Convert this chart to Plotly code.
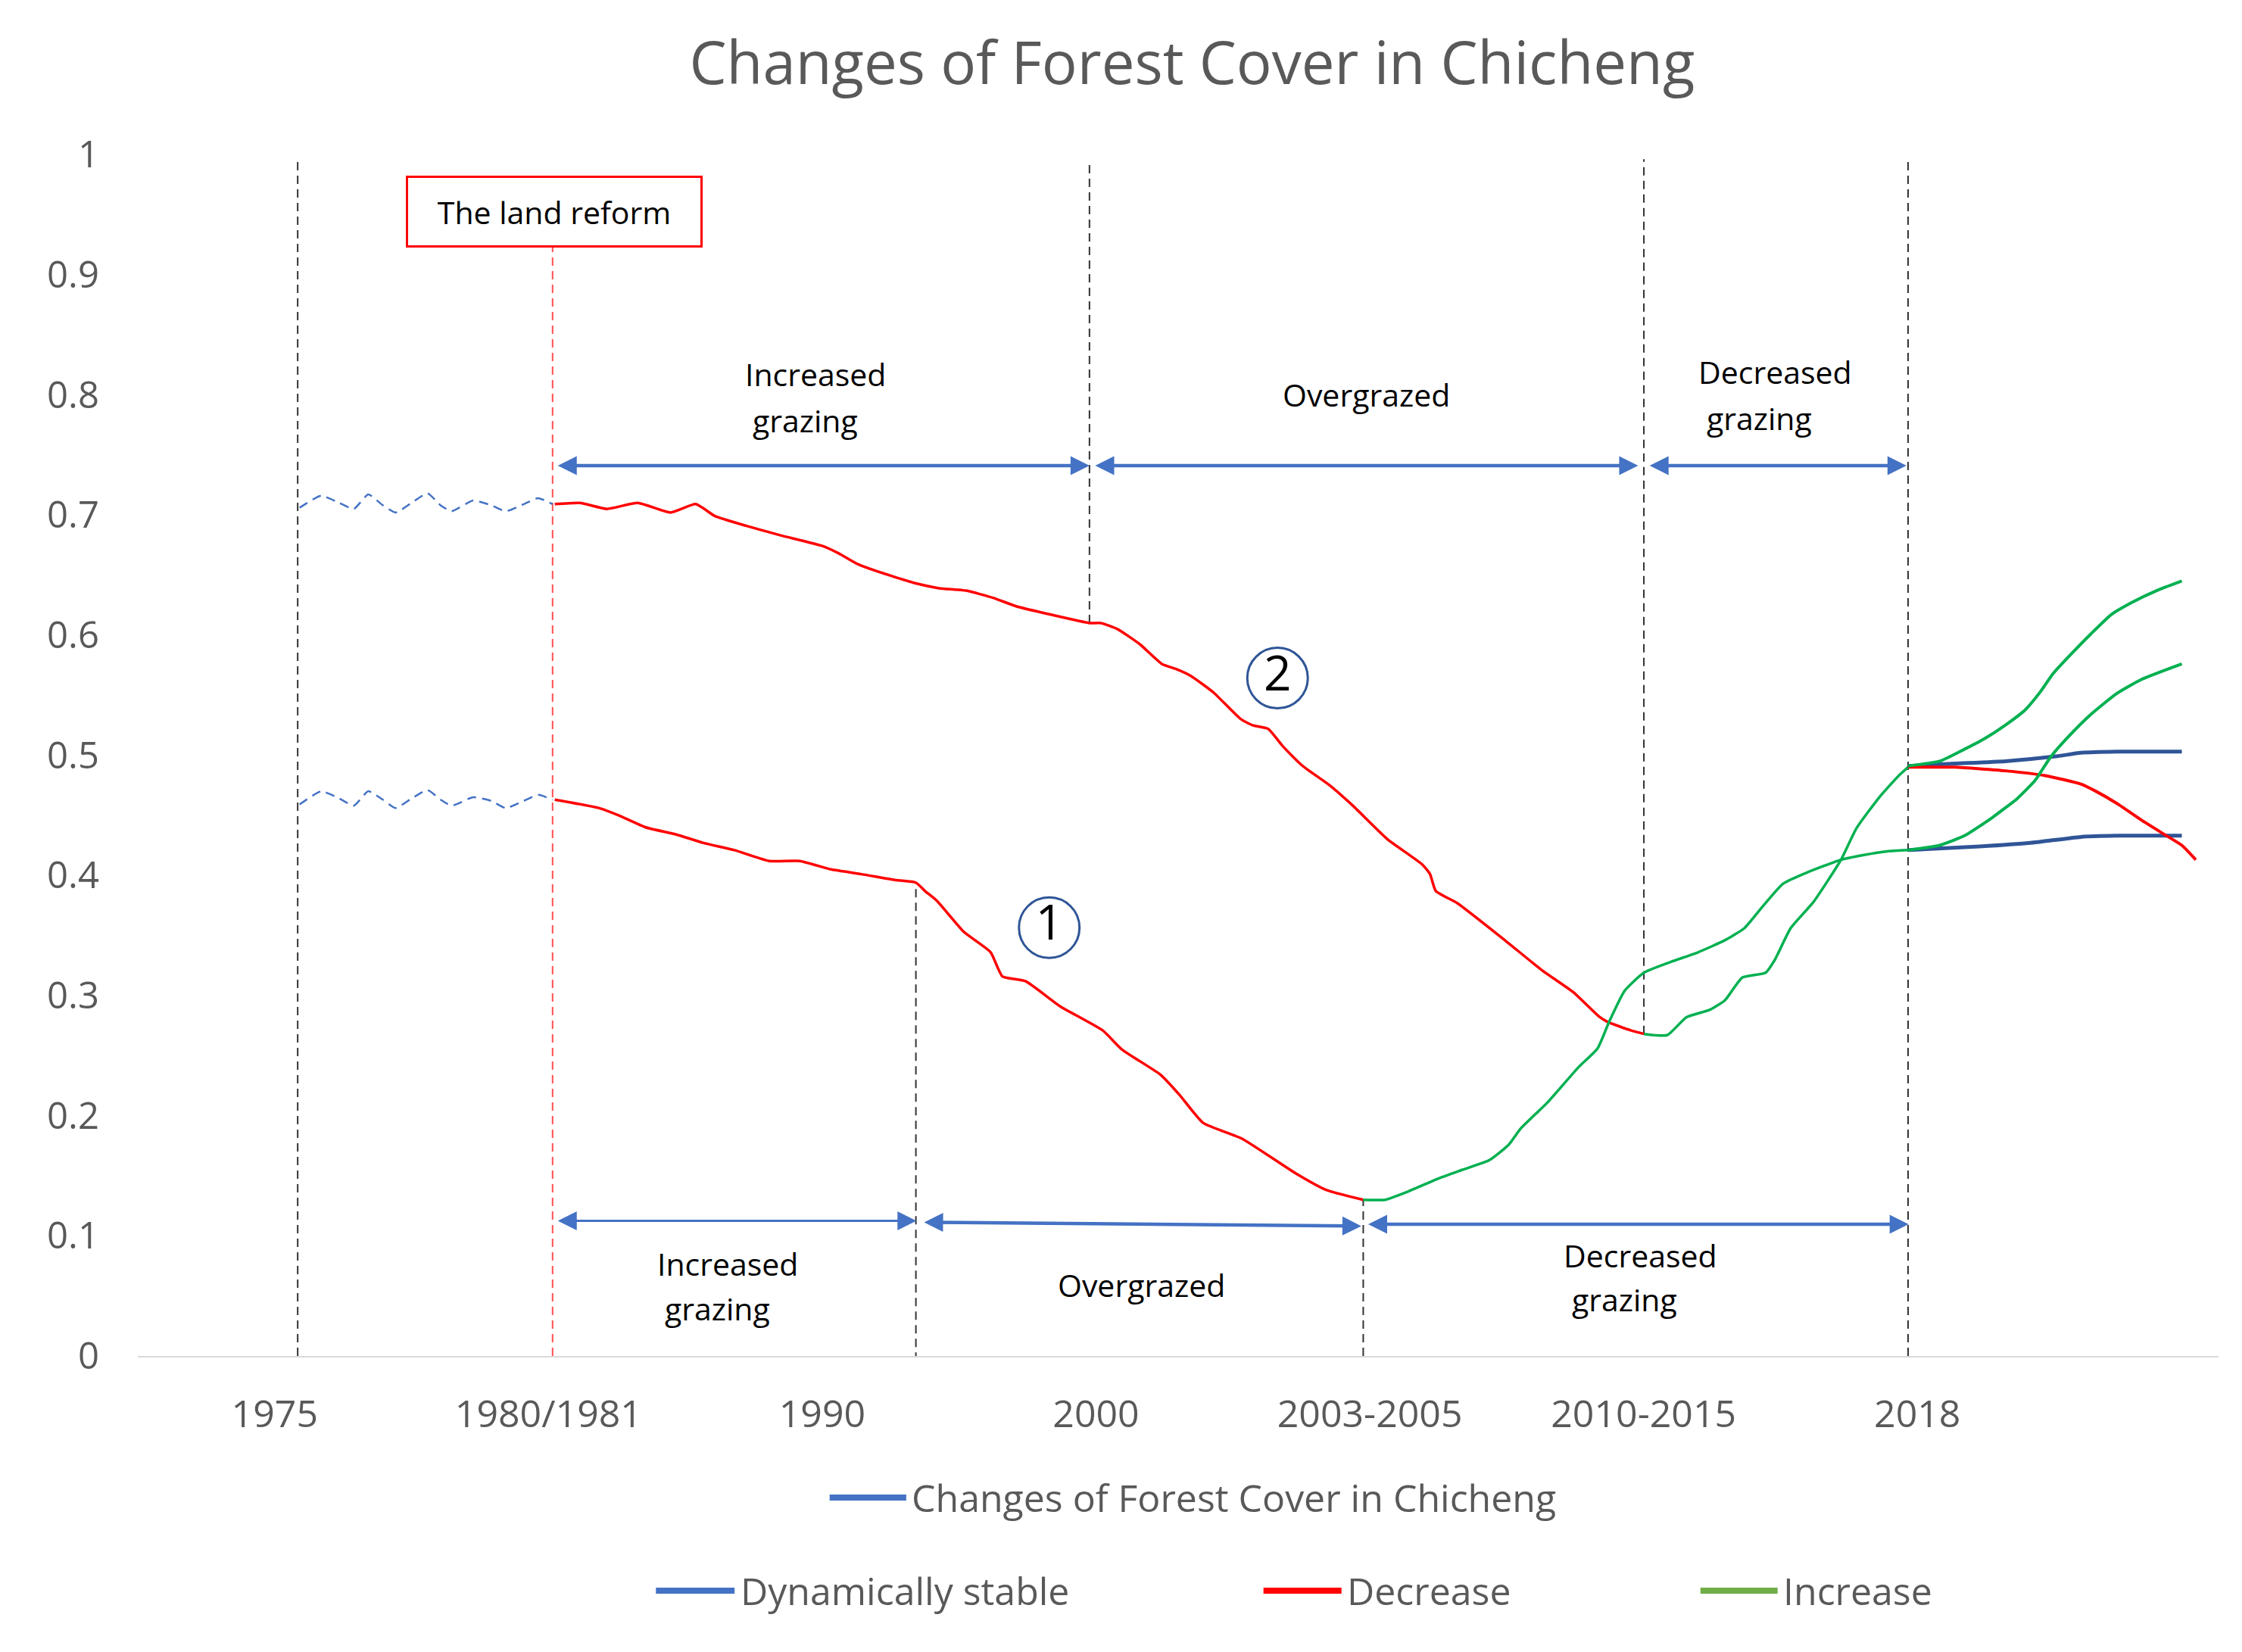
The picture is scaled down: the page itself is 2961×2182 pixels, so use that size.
import plotly.graph_objects as go

# category axis (positions 0..6), last slot left blank like the original
categories = ["1975", "1980/1981", "1990", "2000", "2003-2005", "2010-2015", "2018"]
y_ticks = [0, 0.1, 0.2, 0.3, 0.4, 0.5, 0.6, 0.7, 0.8, 0.9, 1]
y_ticktext = ["0", "0.1", "0.2", "0.3", "0.4", "0.5", "0.6", "0.7", "0.8", "0.9", "1"]

# wavy dashed lines before the land reform
wave_x = [0.091, 0.170, 0.236, 0.289, 0.342, 0.395, 0.442, 0.500, 0.558,
          0.606, 0.646, 0.725, 0.791, 0.844, 0.910, 0.962, 1.015]
wave_hi_y = [0.706, 0.716, 0.710, 0.705, 0.717, 0.708, 0.702, 0.710, 0.718,
             0.708, 0.703, 0.712, 0.708, 0.703, 0.709, 0.714, 0.709]
wave_lo_y = [0.459, 0.470, 0.464, 0.458, 0.470, 0.463, 0.456, 0.464, 0.471,
             0.463, 0.458, 0.465, 0.462, 0.456, 0.462, 0.467, 0.463]

# curve 2 (upper): decrease then increase
c2_dec_x = [1.023, 1.115, 1.213, 1.326, 1.446, 1.538, 1.608, 1.721, 1.848, 2.003,
            2.060, 2.130, 2.201, 2.342, 2.426, 2.525, 2.624, 2.708, 2.835, 2.976,
            3.018, 3.078, 3.162, 3.240, 3.289, 3.346, 3.430, 3.529, 3.571, 3.628,
            3.684, 3.755, 3.853, 3.938, 4.065, 4.192, 4.220, 4.241, 4.319, 4.488,
            4.629, 4.742, 4.840, 4.869, 4.953, 5.001]
c2_dec_y = [0.709, 0.710, 0.705, 0.710, 0.702, 0.709, 0.699, 0.691, 0.683, 0.674,
            0.668, 0.659, 0.653, 0.643, 0.639, 0.637, 0.631, 0.624, 0.617, 0.610,
            0.610, 0.605, 0.592, 0.576, 0.572, 0.566, 0.552, 0.530, 0.525, 0.522,
            0.507, 0.491, 0.475, 0.458, 0.430, 0.409, 0.401, 0.387, 0.377, 0.347,
            0.321, 0.303, 0.282, 0.278, 0.271, 0.268]
c2_inc_x = [5.001, 5.086, 5.157, 5.241, 5.297, 5.361, 5.446, 5.480, 5.537, 5.621,
            5.721, 5.777, 5.861, 5.932, 5.966]
c2_inc_y = [0.268, 0.267, 0.282, 0.288, 0.296, 0.315, 0.319, 0.330, 0.356, 0.378,
            0.413, 0.439, 0.465, 0.483, 0.490]

# curve 1 (lower): decrease then increase
c1_dec_x = [1.023, 1.185, 1.256, 1.355, 1.467, 1.566, 1.679, 1.806, 1.918, 2.032,
            2.144, 2.271, 2.342, 2.375, 2.418, 2.517, 2.615, 2.658, 2.742, 2.869,
            3.024, 3.095, 3.236, 3.306, 3.391, 3.532, 3.729, 3.842, 3.976]
c1_dec_y = [0.463, 0.456, 0.450, 0.440, 0.434, 0.427, 0.421, 0.412, 0.412, 0.405,
            0.401, 0.396, 0.394, 0.387, 0.379, 0.353, 0.336, 0.316, 0.312, 0.291,
            0.271, 0.255, 0.234, 0.217, 0.194, 0.181, 0.152, 0.138, 0.130]
c1_inc_x = [3.976, 4.056, 4.141, 4.254, 4.339, 4.437, 4.508, 4.550, 4.649, 4.761,
            4.832, 4.874, 4.931, 5.001, 5.100, 5.199, 5.297, 5.368, 5.438, 5.509,
            5.593, 5.721, 5.805, 5.890, 5.966]
c1_inc_y = [0.130, 0.130, 0.137, 0.148, 0.155, 0.163, 0.176, 0.189, 0.211, 0.240,
            0.256, 0.278, 0.304, 0.319, 0.328, 0.336, 0.346, 0.356, 0.375, 0.393,
            0.402, 0.413, 0.417, 0.420, 0.421]

# scenarios after 2018
hi_stable_x = [5.966, 6.136, 6.321, 6.505, 6.597, 6.735, 6.966]
hi_stable_y = [0.491, 0.493, 0.495, 0.499, 0.502, 0.503, 0.503]
hi_inc_x = [5.966, 6.081, 6.155, 6.247, 6.321, 6.395, 6.450, 6.496, 6.561, 6.634,
            6.708, 6.782, 6.874, 6.966]
hi_inc_y = [0.491, 0.495, 0.503, 0.514, 0.525, 0.538, 0.553, 0.568, 0.584, 0.601,
            0.617, 0.627, 0.637, 0.645]
hi_dec_x = [5.966, 6.136, 6.321, 6.467, 6.597, 6.652, 6.735, 6.818, 6.910, 6.966, 7.017]
hi_dec_y = [0.490, 0.490, 0.487, 0.483, 0.476, 0.470, 0.459, 0.446, 0.433, 0.425, 0.413]
lo_stable_x = [5.966, 6.227, 6.413, 6.597, 6.735, 6.966]
lo_stable_y = [0.421, 0.424, 0.427, 0.432, 0.433, 0.433]
lo_inc_x = [5.966, 6.081, 6.172, 6.273, 6.365, 6.430, 6.485, 6.550, 6.634, 6.726,
            6.818, 6.966]
lo_inc_y = [0.421, 0.425, 0.433, 0.448, 0.464, 0.479, 0.498, 0.515, 0.534, 0.551,
            0.563, 0.576]

# vertical period markers
vline_x = [0.084, 1.015, 2.342, 2.976, 3.976, 5.001, 5.966]
vline_y0 = [0.0, 0.0, -0.004, 0.610, 0.0, 0.268, 0.0]
vline_y1 = [0.996, 0.923, 0.394, 0.994, 0.130, 0.996, 0.996]
vline_red = [False, True, False, False, False, False, False]

# period arrows (start x, end x, y at start, y at end) and their labels
top_arrow_x0 = [1.030, 2.993, 5.018]
top_arrow_x1 = [2.976, 4.980, 5.960]
top_arrow_y = [0.741, 0.741, 0.741]
bot_arrow_x0 = [1.030, 2.368, 3.990]
bot_arrow_x1 = [2.344, 3.969, 5.968]
bot_arrow_y0 = [0.1125, 0.1113, 0.1097]
bot_arrow_y1 = [0.1125, 0.1081, 0.1097]

label_text = ["Increased", "grazing", "Overgrazed", "Decreased", "grazing",
              "Increased", "grazing", "Overgrazed", "Decreased", "grazing"]
label_x = [1.975, 1.939, 3.988, 5.481, 5.423, 1.655, 1.616, 3.165, 4.989, 4.930]
label_y = [0.817, 0.779, 0.800, 0.819, 0.781, 0.077, 0.040, 0.059, 0.084, 0.047]

circle_text = ["1", "2"]
circle_x = [2.829, 3.663]
circle_y = [0.3565, 0.5642]

legend_labels = ["Changes of Forest Cover in Chicheng", "Dynamically stable", "Decrease", "Increase"]
legend_colors = ["#4472C4", "#4472C4", "#FF0000", "#70AD47"]

RED = "#FF0000"
GREEN = "#00B050"
DARKBLUE = "#2F5597"
ARROW = "#4472C4"
GREY_TXT = "#595959"
FONT = "Open Sans"

fig = go.Figure()


def add_line(x, y, color, width, dash=None):
    fig.add_trace(go.Scatter(
        x=x, y=y, mode="lines", showlegend=False, hoverinfo="skip",
        line=dict(color=color, width=width, dash=dash, shape="spline", smoothing=0.5),
    ))


# vertical dashed lines
for vx, y0, y1, red in zip(vline_x, vline_y0, vline_y1, vline_red):
    fig.add_trace(go.Scatter(
        x=[vx, vx], y=[y0, y1], mode="lines", showlegend=False, hoverinfo="skip",
        line=dict(color="#FF5050" if red else "#333333", width=2, dash="11px,7px"),
    ))

add_line(wave_x, wave_hi_y, ARROW, 2.5, dash="12px,8px")
add_line(wave_x, wave_lo_y, ARROW, 2.5, dash="12px,8px")

add_line(c1_dec_x, c1_dec_y, RED, 3.5)
add_line(c2_dec_x, c2_dec_y, RED, 3.5)
add_line(c1_inc_x, c1_inc_y, GREEN, 3.5)
add_line(c2_inc_x, c2_inc_y, GREEN, 3.5)

add_line(lo_stable_x, lo_stable_y, DARKBLUE, 5)
add_line(hi_stable_x, hi_stable_y, DARKBLUE, 5)
add_line(hi_dec_x, hi_dec_y, RED, 4)
add_line(lo_inc_x, lo_inc_y, GREEN, 4)
add_line(hi_inc_x, hi_inc_y, GREEN, 4)

# circled numbers
fig.add_trace(go.Scatter(
    x=circle_x, y=circle_y, mode="markers+text", text=circle_text,
    textposition="middle center", showlegend=False, hoverinfo="skip",
    textfont=dict(family=FONT, size=64, color="black"),
    marker=dict(symbol="circle-open", size=80, color=DARKBLUE, line=dict(width=3, color=DARKBLUE)),
))

# double headed period arrows
arrows = list(zip(top_arrow_x0, top_arrow_x1, top_arrow_y, top_arrow_y, [4.5] * 3))
arrows += list(zip(bot_arrow_x0, bot_arrow_x1, bot_arrow_y0, bot_arrow_y1, [3, 4.5, 4.5]))
for x0, x1, y0, y1, w in arrows:
    fig.add_annotation(
        x=x1, y=y1, ax=x0, ay=y0, xref="x", yref="y", axref="x", ayref="y",
        text="", showarrow=True, arrowside="end+start",
        arrowhead=2, startarrowhead=2, arrowwidth=w,
        arrowsize=5.0 / w, startarrowsize=5.0 / w,
        arrowcolor=ARROW, standoff=0, startstandoff=0,
    )

for t, lx, ly in zip(label_text, label_x, label_y):
    fig.add_annotation(x=lx, y=ly, xref="x", yref="y", text=t, showarrow=False,
                       xanchor="center", yanchor="middle",
                       font=dict(family=FONT, size=41, color="black"))

# land reform box
fig.add_annotation(x=1.020, y=0.9525, xref="x", yref="y", text="The land reform",
                   showarrow=False, width=386, height=89, align="center", valign="middle",
                   bordercolor="#FF0000", borderwidth=3, borderpad=0, bgcolor="white",
                   font=dict(family=FONT, size=41, color="black"))

# legend drawn by hand (two rows as in the original)
leg_rows = [(0.3325, 0.3693, -0.1178), (0.2490, 0.2868, -0.1953),
            (0.5410, 0.5785, -0.1953), (0.7510, 0.7881, -0.1953)]
for (lx0, lx1, ly), lab, col in zip(leg_rows, legend_labels, legend_colors):
    fig.add_shape(type="line", xref="paper", yref="paper", x0=lx0, x1=lx1, y0=ly, y1=ly,
                  line=dict(color=col, width=8))
    fig.add_annotation(x=lx1 + 0.002, y=ly, xref="paper", yref="paper", text=lab,
                       showarrow=False, xanchor="left", yanchor="middle",
                       font=dict(family=FONT, size=50, color=GREY_TXT))

fig.update_layout(
    width=2961, height=2182,
    margin=dict(l=174, r=39, t=195.5, b=399),
    paper_bgcolor="white", plot_bgcolor="white",
    font=dict(family=FONT, color=GREY_TXT),
    title=dict(text="Changes of Forest Cover in Chicheng", x=0.529, xanchor="center",
               y=0.9652, yanchor="middle", font=dict(family=FONT, size=78, color=GREY_TXT)),
    xaxis=dict(range=[-0.5, 7.1], tickvals=list(range(len(categories))), ticktext=categories,
               showgrid=False, zeroline=False, showline=True, linecolor="#D9D9D9", linewidth=2,
               ticks="", ticklabelstandoff=32, tickfont=dict(family=FONT, size=50, color=GREY_TXT)),
    yaxis=dict(range=[0, 1], tickvals=y_ticks, ticktext=y_ticktext, showgrid=False,
               zeroline=False, showline=False, ticks="", ticklabelstandoff=50,
               tickfont=dict(family=FONT, size=49, color=GREY_TXT)),
    showlegend=False,
)

fig.write_html("out.html")
